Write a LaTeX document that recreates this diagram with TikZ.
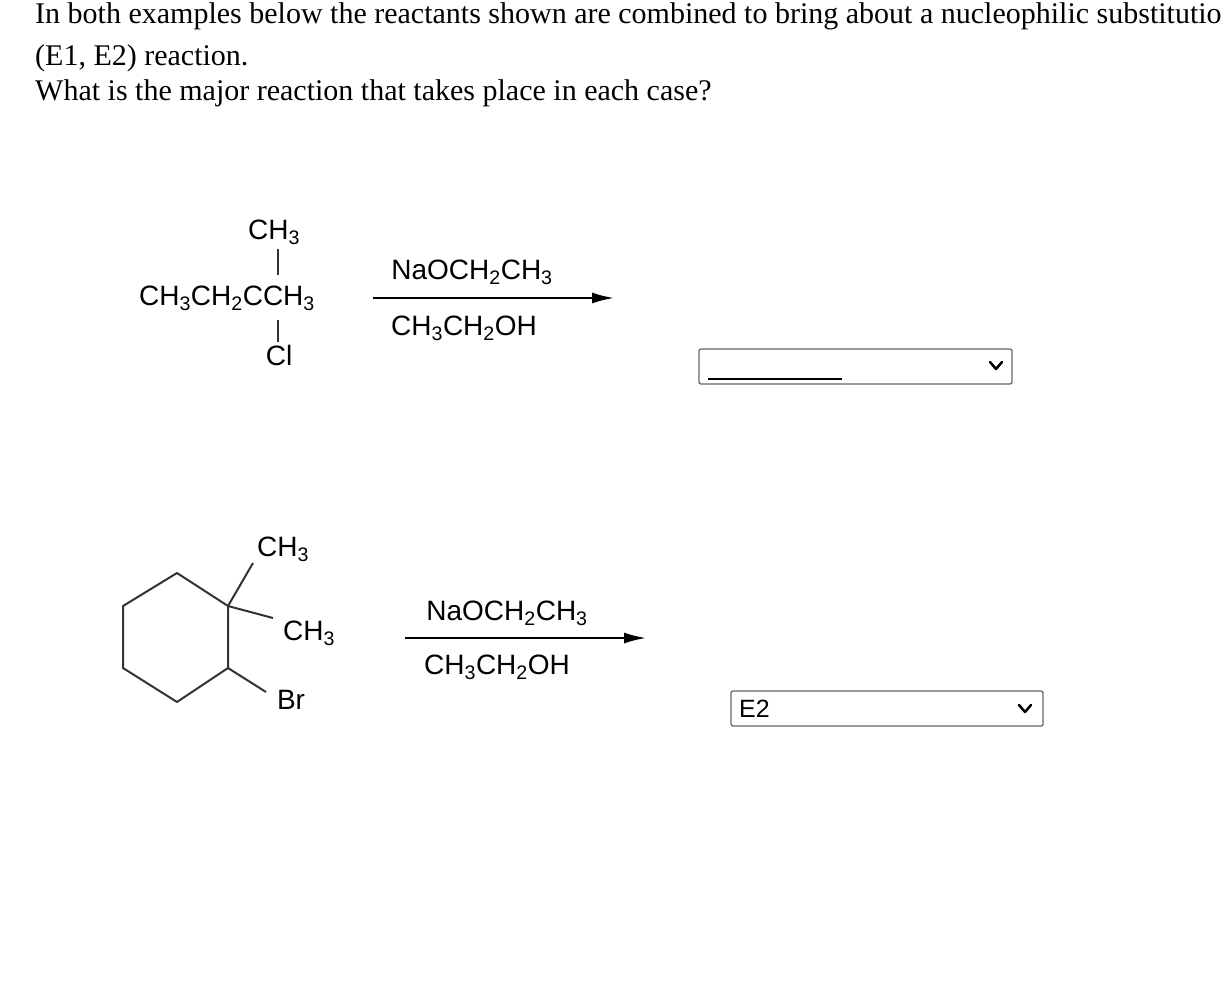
\documentclass[tikz,border=0pt]{standalone}
\usepackage{fontspec}
\usetikzlibrary{arrows.meta}
\setmainfont{Liberation Serif}
\newfontfamily\chem{Liberation Sans}
\newcommand{\sbs}[1]{\textsubscript{#1}}
\begin{document}
\begin{tikzpicture}[x=1pt,y=-1pt,
  q/.style={font=\fontsize{30}{33}\selectfont,anchor=base west,inner sep=0},
  ch/.style={font=\chem\fontsize{28}{30}\selectfont,inner sep=0},
  bond/.style={line width=2pt,color=black!80},
  rarrow/.style={line width=2pt,-{Latex[length=22pt,width=11pt]}},
  dd/.style={draw=black!60,line width=1.3pt,rounded corners=2pt}]
\useasboundingbox (0,0) rectangle (1222,990);
\clip (0,0) rectangle (1222,990);
\node[q] (l1) at (35,24) {In both examples below the reactants shown are combined to bring about a nucleophilic substitution};
\node[q] (l2) at (35,66) {(E1, E2) reaction.};
\node[q] (l3) at (35,100) {What is the major reaction that takes place in each case?};
% reaction 1
\node[ch] (m1) at (274,232) {CH\sbs{3}};
\node[ch] (c1) at (227,298) {CH\sbs{3}CH\sbs{2}CCH\sbs{3}};
\node[ch] (cl) at (279,355) {Cl};
\coordinate (b1a) at (278,249);
\coordinate (b1b) at (278,275);
\coordinate (b1c) at (278,320);
\coordinate (b1d) at (278,342);
\draw[bond] (b1a) -- (b1b);
\draw[bond] (b1c) -- (b1d);
\coordinate (a1s) at (373,298);
\coordinate (a1e) at (614,298);
\draw[rarrow] (a1s) -- (a1e);
\node[ch] (r1a) at (472,272) {NaOCH\sbs{2}CH\sbs{3}};
\node[ch] (r1b) at (464,328) {CH\sbs{3}CH\sbs{2}OH};
% reaction 2
\coordinate (h1) at (177,573);
\coordinate (h2) at (228,606);
\coordinate (h3) at (228,668);
\coordinate (h4) at (177,702);
\coordinate (h5) at (123,668);
\coordinate (h6) at (123,606);
\draw[bond,line join=round] (h1)--(h2)--(h3)--(h4)--(h5)--(h6)--cycle;
\node[ch] (m2) at (283,549) {CH\sbs{3}};
\node[ch] (m3) at (309,633) {CH\sbs{3}};
\node[ch] (br) at (291,700) {Br};
\coordinate (e1) at (253,563);
\coordinate (e2) at (273,618);
\coordinate (e3) at (266,692);
\draw[bond] (h2) -- (e1);
\draw[bond] (h2) -- (e2);
\draw[bond] (h3) -- (e3);
\coordinate (a2s) at (405,638);
\coordinate (a2e) at (646,638);
\draw[rarrow] (a2s) -- (a2e);
\node[ch] (r2a) at (507,613) {NaOCH\sbs{2}CH\sbs{3}};
\node[ch] (r2b) at (497,667) {CH\sbs{3}CH\sbs{2}OH};
% dropdowns
\node[dd,minimum width=313pt,minimum height=35pt,inner sep=0] (d1) at (855.5,366.5) {};
\draw[line width=1.5pt] (708,379) -- (842,379);
\draw[line width=2.5pt,line cap=round,line join=round] (990,362) -- (996,369) -- (1002,362);
\node[dd,minimum width=312pt,minimum height=35pt,inner sep=0] (d2) at (887,708.5) {};
\node[font=\chem\fontsize{25}{27}\selectfont,anchor=west,inner sep=0] (e2t) at (739,709) {E2};
\draw[line width=2.5pt,line cap=round,line join=round] (1019,705) -- (1025,712) -- (1031,705);
\end{tikzpicture}
\end{document}
